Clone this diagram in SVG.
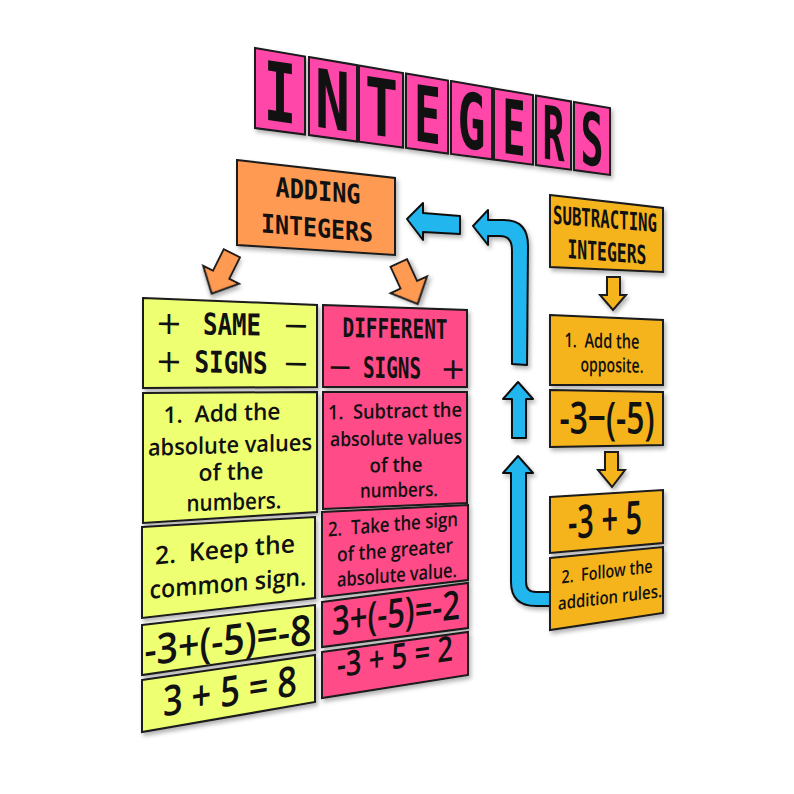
<svg xmlns="http://www.w3.org/2000/svg" width="794" height="794" viewBox="0 0 794 794">
<defs>
<filter id="sh" x="-10%" y="-10%" width="130%" height="140%">
<feDropShadow dx="2" dy="3" stdDeviation="2" flood-color="#000" flood-opacity="0.3"/>
</filter>
<style>
.tile{fill:#FF46AA;stroke:#1a1a1a;stroke-width:2;filter:url(#sh)}
.y{fill:#EEFF72;stroke:#1a1a1a;stroke-width:2;filter:url(#sh)}
.p{fill:#FF4C88;stroke:#1a1a1a;stroke-width:2;filter:url(#sh)}
.o{fill:#FF9A52;stroke:#1a1a1a;stroke-width:2;filter:url(#sh)}
.g{fill:#F6B41F;stroke:#1a1a1a;stroke-width:2;filter:url(#sh)}
.b{fill:#20B6EF;stroke:#111;stroke-width:2;stroke-linejoin:round;filter:url(#sh)}
.ttl{font-family:"DejaVu Sans Mono",monospace;font-weight:bold;fill:#111;text-anchor:middle}
.hd{font-family:"DejaVu Sans Mono",monospace;font-weight:bold;fill:#111;text-anchor:middle}
.sg{font-family:"DejaVu Sans",sans-serif;font-weight:normal;fill:#111;text-anchor:middle}
.tx{font-family:"Open Sans","Liberation Sans",sans-serif;font-weight:600;fill:#111;text-anchor:middle}
</style>
</defs>
<rect width="794" height="794" fill="#fff"/>

<g id="connectors">
<polygon class="o" points="-9,-22 9,-22 9,2 20,2 0,23 -20,2 -9,2" transform="translate(222,273) rotate(26.6)"/>
<polygon class="o" points="-9,-22 9,-22 9,2 20,2 0,23 -20,2 -9,2" transform="translate(408,283) rotate(-24.7)"/>
<polygon class="g" points="607,277 620,277 620,295 626,295 613,310 600,295 607,295"/>
<polygon class="g" points="605,452 618,452 618,470 625,470 612,487 598,470 605,470"/>
<polygon class="b" points="407,219 423,203 423,213 460,216 460,234 423,232 423,240"/>
<path class="b" d="M473,226 L488,210 L488,220 L504,220 Q528,220 528,246 L527,365 L512,364 L512,250 Q512,236 500,236 L488,236 L488,245 Z"/>
<polygon class="b" points="518,382 533,399 526,399 526,438 512,438 512,399 503,399"/>
<path class="b" d="M518,456 L533,473 L526,473 L526,582 Q526,592 536,592 L552,592 L552,606 L536,606 Q511,606 511,582 L511,473 L503,473 Z"/>
</g>

<g id="title">
<g id="tile-I"><polygon class="tile" points="255,48 305,56.5 305,134.6 255,128"/><text class="ttl" x="280" y="121.8" font-size="82" textLength="33" lengthAdjust="spacingAndGlyphs" transform="translate(280,92) skewY(8.6) translate(-280,-92)">I</text></g>
<g id="tile-N"><polygon class="tile" points="309,57.1 357,65.2 357,141.5 309,135.1"/><text class="ttl" x="332.5" y="129.2" font-size="81" textLength="35" lengthAdjust="spacingAndGlyphs" transform="translate(332.5,99.7) skewY(8.6) translate(-332.5,-99.7)">N</text></g>
<g id="tile-T"><polygon class="tile" points="359,65.6 403,73 403,147.5 359,141.7"/><text class="ttl" x="381.5" y="136" font-size="79.5" textLength="33" lengthAdjust="spacingAndGlyphs" transform="translate(381.5,107) skewY(8.6) translate(-381.5,-107)">T</text></g>
<g id="tile-E1"><polygon class="tile" points="406,73.5 448,80.6 448,153.5 406,147.9"/><text class="ttl" x="427.5" y="142.5" font-size="78" textLength="27" lengthAdjust="spacingAndGlyphs" transform="translate(427.5,114) skewY(8.6) translate(-427.5,-114)">E</text></g>
<g id="tile-G"><polygon class="tile" points="451,81.1 492,88.1 492,159.3 451,153.9"/><text class="ttl" x="471.5" y="148.6" font-size="77" textLength="28" lengthAdjust="spacingAndGlyphs" transform="translate(471.5,120.6) skewY(8.6) translate(-471.5,-120.6)">G</text></g>
<g id="tile-E2"><polygon class="tile" points="494,88.4 533,95 533,164.7 494,159.5"/><text class="ttl" x="514" y="154.5" font-size="75.5" textLength="23" lengthAdjust="spacingAndGlyphs" transform="translate(514,127) skewY(8.6) translate(-514,-127)">E</text></g>
<g id="tile-R"><polygon class="tile" points="536,95.5 571,101.4 571,169.7 536,165.1"/><text class="ttl" x="553.5" y="159.9" font-size="74" textLength="22" lengthAdjust="spacingAndGlyphs" transform="translate(553.5,132.9) skewY(8.6) translate(-553.5,-132.9)">R</text></g>
<g id="tile-S"><polygon class="tile" points="574,101.9 610,108 610,174.9 574,170.1"/><text class="ttl" x="592" y="165.2" font-size="72.7" textLength="23" lengthAdjust="spacingAndGlyphs" transform="translate(592,138.7) skewY(8.6) translate(-592,-138.7)">S</text></g>
</g>

<g id="adding">
<polygon class="o" points="237,160 395,178 395,255 237,245"/>
<g transform="translate(316,209) skewY(5) translate(-316,-209)">
<text class="hd" x="318" y="200" font-size="27" textLength="85" lengthAdjust="spacingAndGlyphs">ADDING</text>
<text class="hd" x="317" y="237" font-size="26" textLength="112" lengthAdjust="spacingAndGlyphs">INTEGERS</text>
</g>
</g>

<g id="same-signs">
<polygon class="y" points="143,298 317,305 317,387 143,388"/>
<g transform="translate(230,344) skewY(1) translate(-230,-344)">
<text class="hd" y="335" font-size="30"><tspan class="sg" x="169" font-size="32">+</tspan><tspan x="232" textLength="58" lengthAdjust="spacingAndGlyphs">SAME</tspan><tspan class="sg" x="296" font-size="32">−</tspan></text>
<text class="hd" y="373" font-size="30"><tspan class="sg" x="169" font-size="32">+</tspan><tspan x="231" textLength="73" lengthAdjust="spacingAndGlyphs">SIGNS</tspan><tspan class="sg" x="296" font-size="32">−</tspan></text>
</g>
</g>

<g id="same-step1">
<polygon class="y" points="143,393 317,392 317,512 143,523"/>
<g transform="translate(230,455) skewY(-2) translate(-230,-455)">
<text class="tx" x="222" y="421" font-size="23" textLength="117" lengthAdjust="spacingAndGlyphs" xml:space="preserve">1.  Add the</text>
<text class="tx" x="230" y="453" font-size="23" textLength="164" lengthAdjust="spacingAndGlyphs">absolute values</text>
<text class="tx" x="231" y="480" font-size="23" textLength="65" lengthAdjust="spacingAndGlyphs">of the</text>
<text class="tx" x="234" y="510" font-size="23" textLength="95" lengthAdjust="spacingAndGlyphs">numbers.</text>
</g>
</g>

<g id="same-step2">
<polygon class="y" points="142,527 315,517 315,598 142,618"/>
<g transform="translate(228,565) skewY(-5) translate(-228,-565)">
<text class="tx" x="225" y="558" font-size="25" textLength="140" lengthAdjust="spacingAndGlyphs" xml:space="preserve">2.  Keep the</text>
<text class="tx" x="228" y="592" font-size="25" textLength="157" lengthAdjust="spacingAndGlyphs">common sign.</text>
</g>
</g>

<g id="same-ex1">
<polygon class="y" points="142,625 315,605 315,650 142,675"/>
<g transform="translate(228,640) skewY(-7.4) translate(-228,-640)">
<text class="tx" x="228" y="655" font-size="42" textLength="167" lengthAdjust="spacingAndGlyphs">-3+(-5)=-8</text>
</g>
</g>

<g id="same-ex2">
<polygon class="y" points="142,680 315,655 315,702 142,732"/>
<g transform="translate(230,692) skewY(-9) translate(-230,-692)">
<text class="tx" x="230" y="706" font-size="42" textLength="134" lengthAdjust="spacingAndGlyphs">3 + 5 = 8</text>
</g>
</g>

<g id="diff-signs">
<polygon class="p" points="323,305 467,310 467,387 323,387"/>
<g transform="translate(395,347) skewY(1) translate(-395,-347)">
<text class="hd" x="395" y="338" font-size="27" textLength="105" lengthAdjust="spacingAndGlyphs">DIFFERENT</text>
<text class="hd" y="378" font-size="29"><tspan class="sg" x="340" font-size="30">−</tspan><tspan x="392" textLength="58" lengthAdjust="spacingAndGlyphs">SIGNS</tspan><tspan class="sg" x="453" font-size="30">+</tspan></text>
</g>
</g>

<g id="diff-step1">
<polygon class="p" points="323,392 467,392 467,503 323,509"/>
<g transform="translate(395,449) skewY(-1.2) translate(-395,-449)">
<text class="tx" x="395" y="418" font-size="20" textLength="134" lengthAdjust="spacingAndGlyphs" xml:space="preserve">1.  Subtract the</text>
<text class="tx" x="396" y="445" font-size="20" textLength="132" lengthAdjust="spacingAndGlyphs">absolute values</text>
<text class="tx" x="396" y="472" font-size="20" textLength="53" lengthAdjust="spacingAndGlyphs">of the</text>
<text class="tx" x="399" y="497" font-size="20" textLength="78" lengthAdjust="spacingAndGlyphs">numbers.</text>
</g>
</g>

<g id="diff-step2">
<polygon class="p" points="322,512 468,505 468,580 322,597"/>
<g transform="translate(395,549) skewY(-4.7) translate(-395,-549)">
<text class="tx" x="393" y="531" font-size="20" textLength="130" lengthAdjust="spacingAndGlyphs" xml:space="preserve">2.  Take the sign</text>
<text class="tx" x="395" y="557" font-size="20" textLength="116" lengthAdjust="spacingAndGlyphs">of the greater</text>
<text class="tx" x="397" y="582" font-size="20" textLength="120" lengthAdjust="spacingAndGlyphs">absolute value.</text>
</g>
</g>

<g id="diff-ex1">
<polygon class="p" points="322,602 468,583 468,628 322,647"/>
<g transform="translate(396,615) skewY(-7.4) translate(-396,-615)">
<text class="tx" x="396" y="627" font-size="40" textLength="128" lengthAdjust="spacingAndGlyphs">3+(-5)=-2</text>
</g>
</g>

<g id="diff-ex2">
<polygon class="p" points="322,652 468,632 468,675 322,698"/>
<g transform="translate(395,664) skewY(-8.4) translate(-395,-664)">
<text class="tx" x="395" y="669" font-size="35" textLength="116" lengthAdjust="spacingAndGlyphs">-3 + 5 = 2</text>
</g>
</g>

<g id="subtracting">
<polygon class="g" points="550,195 663,208 663,272 550,267"/>
<g transform="translate(606,236) skewY(4.5) translate(-606,-236)">
<text class="hd" x="605" y="228" font-size="25" textLength="104" lengthAdjust="spacingAndGlyphs">SUBTRACTING</text>
<text class="hd" x="607" y="261" font-size="26" textLength="79" lengthAdjust="spacingAndGlyphs">INTEGERS</text>
</g>
</g>

<g id="sub-step1">
<polygon class="g" points="550,315 663,320 663,385 550,385"/>
<g transform="translate(606,351) skewY(1.3) translate(-606,-351)">
<text class="tx" x="602" y="348" font-size="20" textLength="75" lengthAdjust="spacingAndGlyphs" xml:space="preserve">1.  Add the</text>
<text class="tx" x="612" y="372" font-size="20" textLength="63" lengthAdjust="spacingAndGlyphs">opposite.</text>
</g>
</g>

<g id="sub-ex1">
<polygon class="g" points="550,390 663,392 663,445 550,447"/>
<text class="tx" x="607" y="434" font-size="46" textLength="95" lengthAdjust="spacingAndGlyphs">-3−(-5)</text>
</g>

<g id="sub-ex2">
<polygon class="g" points="550,497 663,490 663,543 550,553"/>
<g transform="translate(606,521) skewY(-4.3) translate(-606,-521)">
<text class="tx" x="605" y="536" font-size="46" textLength="74" lengthAdjust="spacingAndGlyphs">-3 + 5</text>
</g>
</g>

<g id="sub-step2">
<polygon class="g" points="550,558 663,547 663,613 550,630"/>
<g transform="translate(606,587) skewY(-7) translate(-606,-587)">
<text class="tx" x="607" y="578" font-size="18" textLength="91" lengthAdjust="spacingAndGlyphs" xml:space="preserve">2.  Follow the</text>
<text class="tx" x="610" y="604" font-size="18" textLength="104" lengthAdjust="spacingAndGlyphs">addition rules.</text>
</g>
</g>
</svg>
